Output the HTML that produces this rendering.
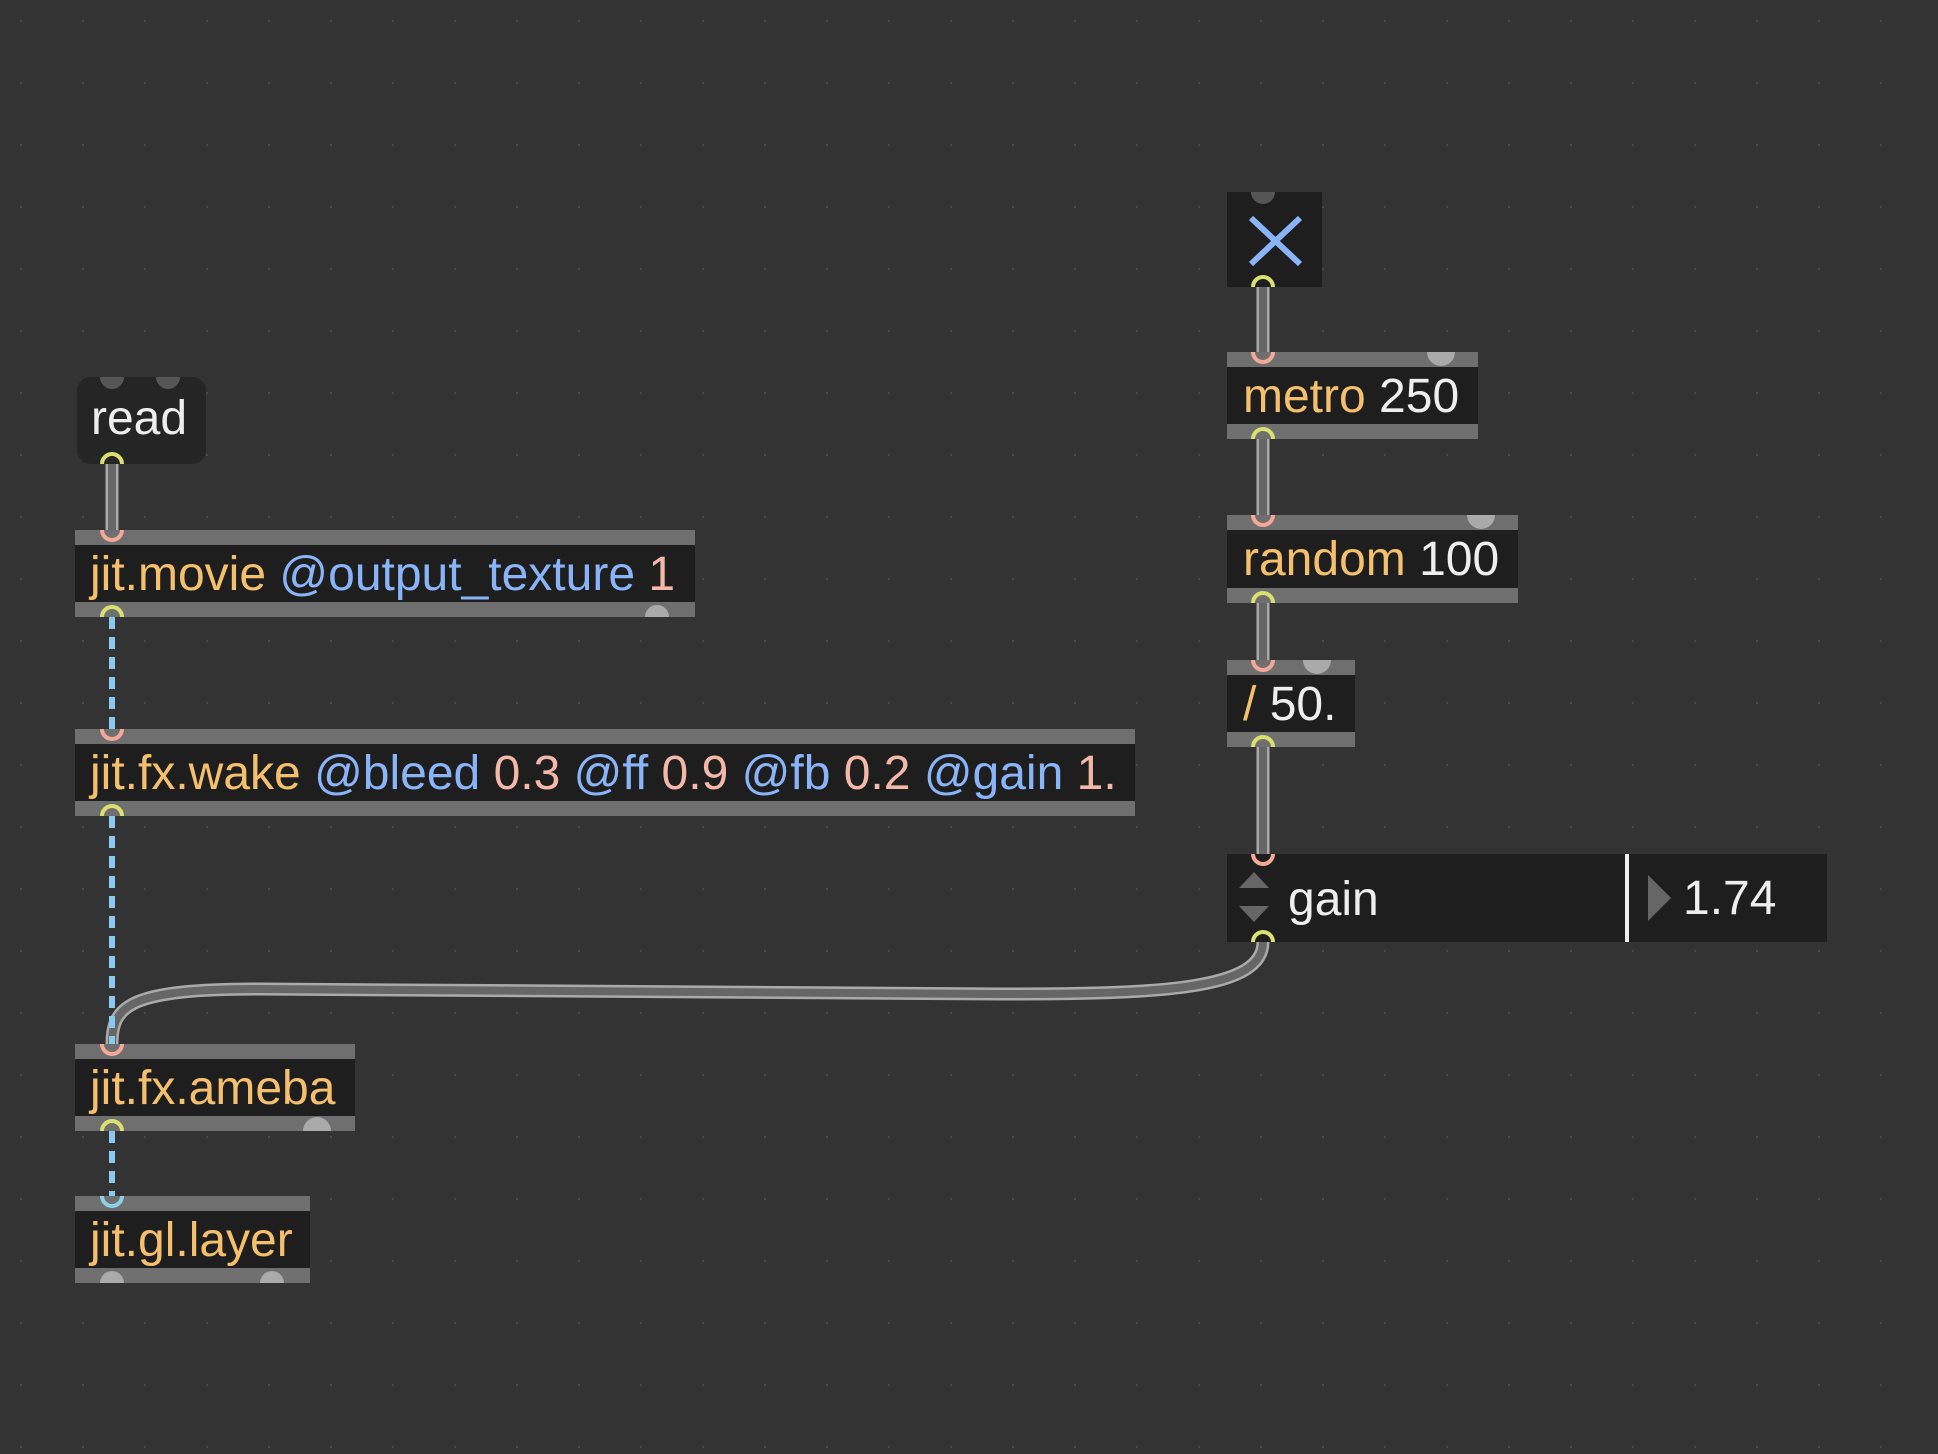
<!DOCTYPE html>
<html><head><meta charset="utf-8"><style>
html,body{margin:0;padding:0;background:#333;}
svg{display:block}
text{font-family:"Liberation Sans",Arial,sans-serif;font-size:48px}
</style></head><body>
<svg width="1938" height="1454" viewBox="0 0 1938 1454" xmlns="http://www.w3.org/2000/svg">
<defs>
<pattern id="g" x="20" y="20" width="62" height="62" patternUnits="userSpaceOnUse">
<rect x="0" y="0" width="2" height="2" fill="#4a4a4a"/>
</pattern>
</defs>
<rect width="1938" height="1454" fill="#333"/>
<rect width="1938" height="1454" fill="url(#g)"/>

<g fill="none" stroke-linecap="round">
<path d="M112,464 V530" stroke="#aaa" stroke-width="13"/>
<path d="M112,464 V530" stroke="#666" stroke-width="8"/>
<path d="M1263,287 V352 M1263,439 V515 M1263,603 V660 M1263,747 V854" stroke="#aaa" stroke-width="13"/>
<path d="M1263,287 V352 M1263,439 V515 M1263,603 V660 M1263,747 V854" stroke="#666" stroke-width="8"/>
<path d="M1263,942 C1263,990 1160,994 1000,994 L260,989 C130,989 112,1005 112,1044" stroke="#aaa" stroke-width="13"/>
<path d="M1263,942 C1263,990 1160,994 1000,994 L260,989 C130,989 112,1005 112,1044" stroke="#666" stroke-width="8"/>
<path d="M112,617 V729 M112,816 V1044 M112,1131 V1196" stroke="#8ac8f0" stroke-width="6" stroke-dasharray="12,8" stroke-linecap="butt"/>
</g>

<rect x="77" y="377" width="129" height="87" rx="14" fill="#252525"/>
<path d="M100,377 a12,12 0 0 0 24,0 Z M156,377 a12,12 0 0 0 24,0 Z" fill="#555"/>
<text x="91" y="434" fill="#eee">read</text>

<g>
<rect x="75" y="530" width="620" height="87" fill="#1e1e1e"/>
<rect x="75" y="530" width="620" height="15" fill="#6f6f6f"/>
<rect x="75" y="602" width="620" height="15" fill="#6f6f6f"/>
<path d="M645,617 a12,12 0 0 1 24,0 Z" fill="#aaa"/>
<text x="90" y="590"><tspan fill="#f5c06e">jit.movie</tspan> <tspan fill="#8ab4f8">@output_texture</tspan> <tspan fill="#f4b8a8">1</tspan></text>

<rect x="75" y="729" width="1060" height="87" fill="#1e1e1e"/>
<rect x="75" y="729" width="1060" height="15" fill="#6f6f6f"/>
<rect x="75" y="801" width="1060" height="15" fill="#6f6f6f"/>
<text x="90" y="789"><tspan fill="#f5c06e">jit.fx.wake</tspan> <tspan fill="#8ab4f8">@bleed</tspan> <tspan fill="#f4b8a8">0.3</tspan> <tspan fill="#8ab4f8">@ff</tspan> <tspan fill="#f4b8a8">0.9</tspan> <tspan fill="#8ab4f8">@fb</tspan> <tspan fill="#f4b8a8">0.2</tspan> <tspan fill="#8ab4f8">@gain</tspan> <tspan fill="#f4b8a8">1.</tspan></text>

<rect x="75" y="1044" width="280" height="87" fill="#1e1e1e"/>
<rect x="75" y="1044" width="280" height="15" fill="#6f6f6f"/>
<rect x="75" y="1116" width="280" height="15" fill="#6f6f6f"/>
<path d="M303,1131 a14,14 0 0 1 28,0 Z" fill="#aaa"/>
<text x="90" y="1104" fill="#f5c06e">jit.fx.ameba</text>

<rect x="75" y="1196" width="235" height="87" fill="#1e1e1e"/>
<rect x="75" y="1196" width="235" height="15" fill="#6f6f6f"/>
<rect x="75" y="1268" width="235" height="15" fill="#6f6f6f"/>
<path d="M100,1283 a12,12 0 0 1 24,0 Z M260,1283 a12,12 0 0 1 24,0 Z" fill="#aaa"/>
<text x="90" y="1256" fill="#f5c06e">jit.gl.layer</text>

<rect x="1227" y="192" width="95" height="95" fill="#1e1e1e"/>
<path d="M1251,192 a12,12 0 0 0 24,0 Z" fill="#555"/>
<path d="M1251,218 L1300,264 M1300,218 L1251,264" stroke="#8ab4f8" stroke-width="6"/>

<rect x="1227" y="352" width="251" height="87" fill="#1e1e1e"/>
<rect x="1227" y="352" width="251" height="15" fill="#6f6f6f"/>
<rect x="1227" y="424" width="251" height="15" fill="#6f6f6f"/>
<path d="M1427,352 a14,14 0 0 0 28,0 Z" fill="#aaa"/>
<text x="1243" y="412"><tspan fill="#f5c06e">metro</tspan> <tspan fill="#eee">250</tspan></text>

<rect x="1227" y="515" width="291" height="88" fill="#1e1e1e"/>
<rect x="1227" y="515" width="291" height="15" fill="#6f6f6f"/>
<rect x="1227" y="588" width="291" height="15" fill="#6f6f6f"/>
<path d="M1467,515 a14,14 0 0 0 28,0 Z" fill="#aaa"/>
<text x="1243" y="575"><tspan fill="#f5c06e">random</tspan> <tspan fill="#eee">100</tspan></text>

<rect x="1227" y="660" width="128" height="87" fill="#1e1e1e"/>
<rect x="1227" y="660" width="128" height="15" fill="#6f6f6f"/>
<rect x="1227" y="732" width="128" height="15" fill="#6f6f6f"/>
<path d="M1303,660 a14,14 0 0 0 28,0 Z" fill="#aaa"/>
<text x="1243" y="720"><tspan fill="#f5c06e">/</tspan> <tspan fill="#eee">50.</tspan></text>

<rect x="1227" y="854" width="600" height="88" fill="#1e1e1e"/>
<path d="M1239,888 L1254,872 L1269,888 Z M1239,906 L1254,922 L1269,906 Z" fill="#666"/>
<text x="1288" y="915" fill="#eee">gain</text>
<rect x="1625" y="854" width="4" height="88" fill="#eee"/>
<path d="M1648,875 L1671,898 L1648,921 Z" fill="#666"/>
<text x="1683" y="914" fill="#eee">1.74</text>
</g>

<g fill="none" stroke-width="4">
<g stroke="#f4a898">
<path d="M102,530 a10,10 0 0 0 20,0"/>
<path d="M102,729 a10,10 0 0 0 20,0"/>
<path d="M102,1044 a10,10 0 0 0 20,0"/>
<path d="M1253,352 a10,10 0 0 0 20,0"/>
<path d="M1253,515 a10,10 0 0 0 20,0"/>
<path d="M1253,660 a10,10 0 0 0 20,0"/>
<path d="M1253,854 a10,10 0 0 0 20,0"/>
</g>
<path d="M102,1196 a10,10 0 0 0 20,0" stroke="#8ad0e8"/>
<g stroke="#d8e070">
<path d="M102,464 a10,10 0 0 1 20,0"/>
<path d="M102,617 a10,10 0 0 1 20,0"/>
<path d="M102,816 a10,10 0 0 1 20,0"/>
<path d="M102,1131 a10,10 0 0 1 20,0"/>
<path d="M1253,287 a10,10 0 0 1 20,0"/>
<path d="M1253,439 a10,10 0 0 1 20,0"/>
<path d="M1253,603 a10,10 0 0 1 20,0"/>
<path d="M1253,747 a10,10 0 0 1 20,0"/>
<path d="M1253,942 a10,10 0 0 1 20,0"/>
</g>
</g>
</svg>
</body></html>
